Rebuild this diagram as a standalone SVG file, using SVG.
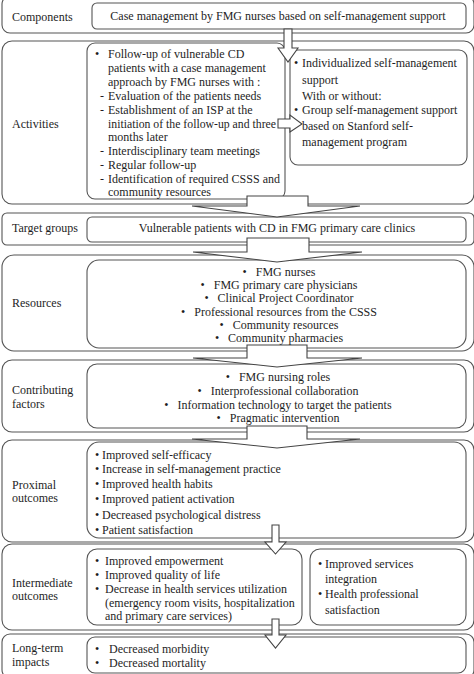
<svg xmlns="http://www.w3.org/2000/svg" width="474" height="674" viewBox="0 0 474 674">
<style>
.ob{fill:#fff;stroke:#555;stroke-width:1.1}
.ib{fill:#fff;stroke:#555;stroke-width:1.1}
.ar{fill:#fff;stroke:#444;stroke-width:1.1;stroke-linejoin:miter}
text{font-family:"Liberation Serif","Times New Roman",serif;font-size:12px;fill:#1e1e1e}
.c{text-anchor:middle}
</style>
<rect width="474" height="674" fill="#fff"/>
<g id="row-components">
<rect class="ob" x="2" y="-4" width="472" height="37" rx="8"/>
<text x="12" y="21">Components</text>
<rect class="ib" x="92" y="3" width="374" height="26" rx="5"/>
<text class="c" x="278" y="20">Case management by FMG nurses based on self-management support</text>
</g>
<g id="row-activities">
<rect class="ob" x="2" y="41" width="472" height="163" rx="10"/>
<text x="12" y="128">Activities</text>
<g id="activities-left">
<rect class="ib" x="87" y="43" width="198" height="156" rx="8"/>
<text x="95" y="58">•</text>
<text x="108" y="58">Follow-up of vulnerable CD</text>
<text x="108" y="72">patients with a case management</text>
<text x="108" y="86">approach by FMG nurses with :</text>
<text x="100" y="100">-</text><text x="108" y="100">Evaluation of the patients needs</text>
<text x="100" y="114">-</text><text x="108" y="114">Establishment of an ISP at the</text>
<text x="108" y="128" textLength="168" lengthAdjust="spacingAndGlyphs">initiation of the follow-up and three</text>
<text x="108" y="141">months later</text>
<text x="100" y="155">-</text><text x="108" y="155">Interdisciplinary team meetings</text>
<text x="100" y="169">-</text><text x="108" y="169">Regular follow-up</text>
<text x="100" y="183">-</text><text x="108" y="183">Identification of required CSSS and</text>
<text x="108" y="196">community resources</text>
</g>
<g id="activities-right">
<rect class="ib" x="290" y="50" width="177" height="115" rx="8"/>
<text x="294" y="67">•</text><text x="302" y="67">Individualized self-management</text>
<text x="302" y="84">support</text>
<text x="302" y="100">With or without:</text>
<text x="294" y="114">•</text><text x="302" y="114">Group self-management support</text>
<text x="302" y="130">based on Stanford self-</text>
<text x="302" y="146">management program</text>
</g>
</g>
<g id="row-target">
<rect class="ob" x="2" y="213" width="472" height="32" rx="5"/>
<text x="12" y="232">Target groups</text>
<rect class="ib" x="87" y="217" width="379" height="25" rx="5"/>
<text class="c" x="277" y="232">Vulnerable patients with CD in FMG primary care clinics</text>
</g>
<g id="row-resources">
<rect class="ob" x="2" y="255" width="472" height="96" rx="12"/>
<text x="12" y="307">Resources</text>
<rect class="ib" x="87" y="260" width="379" height="88" rx="12"/>
<text class="c" x="279" y="276">•&#160;&#160;&#160;FMG nurses</text>
<text class="c" x="279" y="289">•&#160;&#160;&#160;FMG primary care physicians</text>
<text class="c" x="279" y="302">•&#160;&#160;&#160;Clinical Project Coordinator</text>
<text class="c" x="279" y="316">•&#160;&#160;&#160;Professional resources from the CSSS</text>
<text class="c" x="279" y="329">•&#160;&#160;&#160;Community resources</text>
<text class="c" x="279" y="342">•&#160;&#160;&#160;Community pharmacies</text>
</g>
<g id="row-contributing">
<rect class="ob" x="2" y="360" width="472" height="72" rx="10"/>
<text x="12" y="394">Contributing</text>
<text x="12" y="408">factors</text>
<rect class="ib" x="87" y="364" width="379" height="64" rx="10"/>
<text class="c" x="278" y="381">•&#160;&#160;&#160;FMG nursing roles</text>
<text class="c" x="278" y="395">•&#160;&#160;&#160;Interprofessional collaboration</text>
<text class="c" x="278" y="409">•&#160;&#160;&#160;Information technology to target the patients</text>
<text class="c" x="278" y="422">•&#160;&#160;&#160;Pragmatic intervention</text>
</g>
<g id="row-proximal">
<rect class="ob" x="2" y="440" width="472" height="102" rx="10"/>
<text x="12" y="489">Proximal</text>
<text x="12" y="502">outcomes</text>
<rect class="ib" x="87" y="442" width="379" height="96" rx="12"/>
<text x="95" y="459">•</text><text x="102" y="459">Improved self-efficacy</text>
<text x="95" y="473">•</text><text x="102" y="473">Increase in self-management practice</text>
<text x="95" y="488">•</text><text x="102" y="488">Improved health habits</text>
<text x="95" y="503">•</text><text x="102" y="503">Improved patient activation</text>
<text x="95" y="519">•</text><text x="102" y="519">Decreased psychological distress</text>
<text x="95" y="534">•</text><text x="102" y="534">Patient satisfaction</text>
</g>
<g id="row-intermediate">
<rect class="ob" x="2" y="544" width="472" height="86" rx="10"/>
<text x="12" y="587">Intermediate</text>
<text x="12" y="600">outcomes</text>
<g id="intermediate-left">
<rect class="ib" x="87" y="549" width="215" height="76" rx="10"/>
<text x="95" y="565">•</text><text x="105" y="565">Improved empowerment</text>
<text x="95" y="579">•</text><text x="105" y="579">Improved quality of life</text>
<text x="95" y="593">•</text><text x="105" y="593">Decrease in health services utilization</text>
<text x="105" y="607">(emergency room visits, hospitalization</text>
<text x="105" y="620">and primary care services)</text>
</g>
<g id="intermediate-right">
<rect class="ib" x="310" y="549" width="156" height="76" rx="10"/>
<text x="318" y="568">•</text><text x="325" y="568">Improved services</text>
<text x="325" y="583">integration</text>
<text x="318" y="598">•</text><text x="325" y="598">Health professional</text>
<text x="325" y="614">satisfaction</text>
</g>
</g>
<g id="row-longterm">
<rect class="ob" x="2" y="634" width="472" height="44" rx="8"/>
<text x="12" y="652">Long-term</text>
<text x="12" y="666">impacts</text>
<rect class="ib" x="87" y="637" width="379" height="36" rx="8"/>
<text x="95" y="653">•</text><text x="109" y="653">Decreased morbidity</text>
<text x="95" y="667">•</text><text x="109" y="667">Decreased mortality</text>
</g>
<g id="connectors">
<polygon class="ar" points="284,29 292,29 292,48 298,48 288,62 278,48 284,48"/>
<polygon class="ar" points="278,119 290,119 290,115 302,124 290,132 290,128 278,128"/>
<polygon class="ar" points="247,196 308,196 308,206 360,206 277,217 192,206 247,206"/>
<polygon class="ar" points="247,238 309,238 309,252 362,252 277,262 193,252 247,252"/>
<polygon class="ar" points="247,345 307,345 307,358 362,358 277,367 193,358 247,358"/>
<polygon class="ar" points="247,426 307,426 307,439 360,439 277,448 192,439 247,439"/>
<polygon class="ar" points="272,525 279,525 279,542 286,542 275.5,554 265,542 272,542"/>
<polygon class="ar" points="272,619 279,619 279,635 286,635 275.5,648 265,635 272,635"/>
</g>
</svg>
